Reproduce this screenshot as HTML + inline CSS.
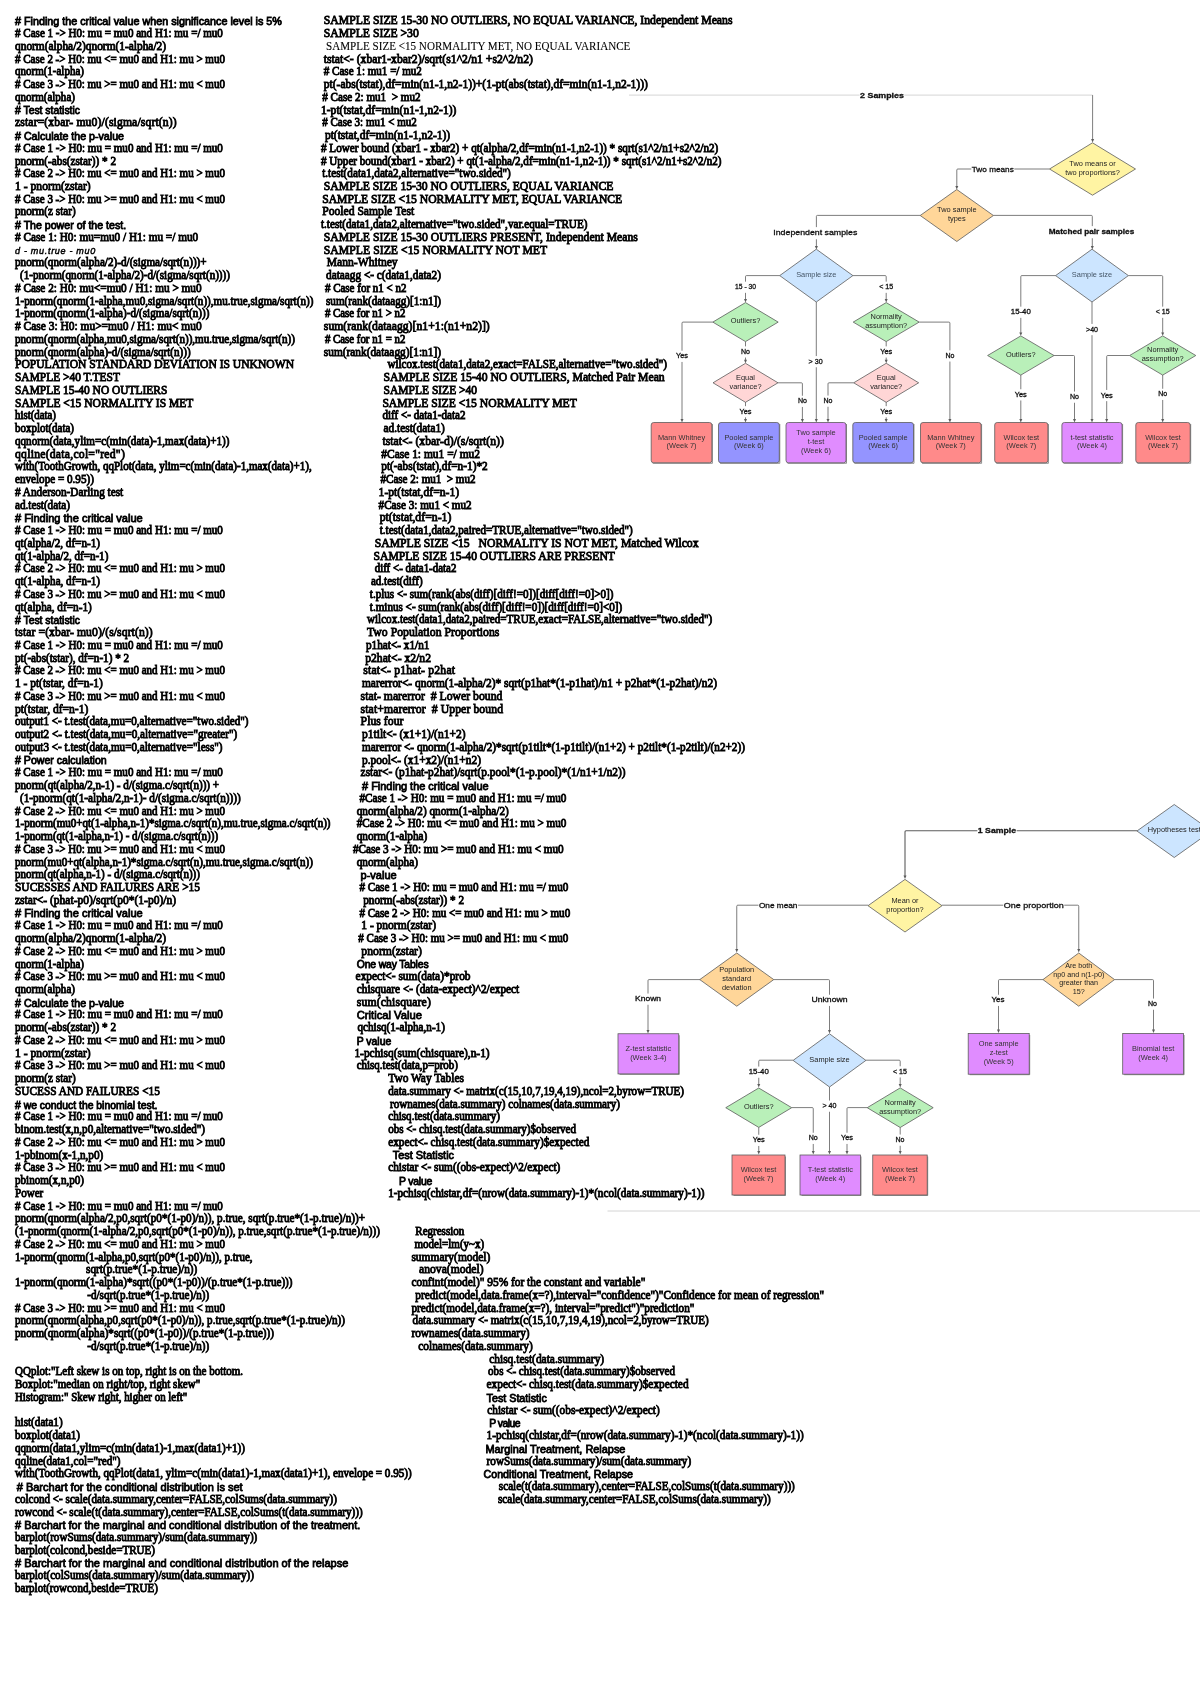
<!DOCTYPE html>
<html><head><meta charset="utf-8"><title>Statistics cheat sheet</title>
<style>
html,body{margin:0;padding:0;background:#fff}
body{width:1200px;height:1697px;position:relative;overflow:hidden;color:#000}
svg{display:block}
#txt{position:absolute;left:0;top:0;will-change:transform}
#txt text{white-space:pre;fill:#000;stroke:#000;stroke-width:0.8px}
#txt .s{font-family:"Liberation Serif",serif}
#txt .a{font-family:"Liberation Sans",sans-serif;stroke-width:0.8px}
#txt .i{font-family:"Liberation Sans",sans-serif;font-style:italic;stroke-width:0.45px}
#txt .l{font-family:"Liberation Serif",serif;stroke-width:0.1px}
</style></head>
<body>
<svg width="1200" height="1697" viewBox="0 0 1200 1697" style="position:absolute;left:0;top:0;will-change:transform;font-family:'Liberation Sans',sans-serif">
<path d="M629,95.1 H1092.6" stroke="#dedede" stroke-width="1.3" fill="none"/>
<path d="M1092.6,95.1 V140.0" fill="none" stroke="#5c5c5c" stroke-width="0.8"/>
<polygon points="1092.6,142.5 1091.1,139.1 1094.1,139.1" fill="#5c5c5c"/>
<rect x="859.60" y="89.50" width="44.80" height="12.16" fill="#fff"/>
<text x="882" y="97.86" font-size="7.6" fill="#111" stroke="#111" stroke-width="0.3" font-weight="bold" text-anchor="middle" textLength="43.8" lengthAdjust="spacingAndGlyphs">2 Samples</text>
<path d="M1049.5,169 H957.8 Q956.8,169 956.8,170 V187.0" fill="none" stroke="#5c5c5c" stroke-width="0.8"/>
<polygon points="956.8,189.5 955.3,186.1 958.3,186.1" fill="#5c5c5c"/>
<rect x="971.30" y="163.30" width="43.00" height="12.16" fill="#fff"/>
<text x="992.8" y="171.66" font-size="7.6" fill="#111" stroke="#111" stroke-width="0.3" font-weight="normal" text-anchor="middle" textLength="42" lengthAdjust="spacingAndGlyphs">Two means</text>
<path d="M920.3,215.4 H817.4 Q816.4,215.4 816.4,216.4 V247.0" fill="none" stroke="#5c5c5c" stroke-width="0.8"/>
<polygon points="816.4,249.5 814.9,246.1 817.9,246.1" fill="#5c5c5c"/>
<path d="M993.3,215.4 H1091.3 Q1092.3,215.4 1092.3,216.4 V247.0" fill="none" stroke="#5c5c5c" stroke-width="0.8"/>
<polygon points="1092.3,249.5 1090.8,246.1 1093.8,246.1" fill="#5c5c5c"/>
<rect x="772.80" y="227.10" width="85.00" height="12.16" fill="#fff"/>
<text x="815.3" y="235.46" font-size="7.6" fill="#111" stroke="#111" stroke-width="0.3" font-weight="normal" text-anchor="middle" textLength="84" lengthAdjust="spacingAndGlyphs">Independent samples</text>
<rect x="1048.30" y="226.10" width="86.40" height="12.16" fill="#fff"/>
<text x="1091.5" y="234.46" font-size="7.6" fill="#111" stroke="#111" stroke-width="0.3" font-weight="bold" text-anchor="middle" textLength="85.4" lengthAdjust="spacingAndGlyphs">Matched pair samples</text>
<path d="M779.8,275.6 H746.5 Q745.5,275.6 745.5,276.6 V300.0" fill="none" stroke="#5c5c5c" stroke-width="0.8"/>
<polygon points="745.5,302.5 744.0,299.1 747.0,299.1" fill="#5c5c5c"/>
<rect x="734.50" y="281.65" width="22.00" height="11.20" fill="#fff"/>
<text x="745.5" y="289.35" font-size="7" fill="#111" stroke="#111" stroke-width="0.3" font-weight="normal" text-anchor="middle" textLength="21" lengthAdjust="spacingAndGlyphs">15 - 30</text>
<path d="M852.8,275.6 H885.2 Q886.2,275.6 886.2,276.6 V300.0" fill="none" stroke="#5c5c5c" stroke-width="0.8"/>
<polygon points="886.2,302.5 884.7,299.1 887.7,299.1" fill="#5c5c5c"/>
<rect x="878.70" y="281.65" width="15.00" height="11.20" fill="#fff"/>
<text x="886.2" y="289.35" font-size="7" fill="#111" stroke="#111" stroke-width="0.3" font-weight="normal" text-anchor="middle" textLength="14" lengthAdjust="spacingAndGlyphs">&lt; 15</text>
<path d="M816.3,302 V420.0" fill="none" stroke="#5c5c5c" stroke-width="0.8"/>
<polygon points="816.3,422.5 814.8,419.1 817.8,419.1" fill="#5c5c5c"/>
<rect x="808.10" y="356.05" width="15.00" height="11.20" fill="#fff"/>
<text x="815.6" y="363.75" font-size="7" fill="#111" stroke="#111" stroke-width="0.3" font-weight="normal" text-anchor="middle" textLength="14" lengthAdjust="spacingAndGlyphs">&gt; 30</text>
<path d="M712.8,322.1 H683 Q682,322.1 682,323.1 V420.0" fill="none" stroke="#5c5c5c" stroke-width="0.8"/>
<polygon points="682,422.5 680.5,419.1 683.5,419.1" fill="#5c5c5c"/>
<rect x="675.50" y="350.75" width="13.00" height="11.20" fill="#fff"/>
<text x="682" y="358.45" font-size="7" fill="#111" stroke="#111" stroke-width="0.3" font-weight="normal" text-anchor="middle" textLength="12" lengthAdjust="spacingAndGlyphs">Yes</text>
<path d="M745.5,341.5 V360.7" fill="none" stroke="#5c5c5c" stroke-width="0.8"/>
<polygon points="745.5,363.2 744.0,359.8 747.0,359.8" fill="#5c5c5c"/>
<rect x="740.50" y="346.35" width="10.00" height="11.20" fill="#fff"/>
<text x="745.5" y="354.05" font-size="7" fill="#111" stroke="#111" stroke-width="0.3" font-weight="normal" text-anchor="middle" textLength="9" lengthAdjust="spacingAndGlyphs">No</text>
<path d="M886.2,341.5 V360.7" fill="none" stroke="#5c5c5c" stroke-width="0.8"/>
<polygon points="886.2,363.2 884.7,359.8 887.7,359.8" fill="#5c5c5c"/>
<rect x="879.70" y="346.35" width="13.00" height="11.20" fill="#fff"/>
<text x="886.2" y="354.05" font-size="7" fill="#111" stroke="#111" stroke-width="0.3" font-weight="normal" text-anchor="middle" textLength="12" lengthAdjust="spacingAndGlyphs">Yes</text>
<path d="M919.3,322.1 H948.9 Q949.9,322.1 949.9,323.1 V420.0" fill="none" stroke="#5c5c5c" stroke-width="0.8"/>
<polygon points="949.9,422.5 948.4,419.1 951.4,419.1" fill="#5c5c5c"/>
<rect x="945.00" y="350.35" width="10.00" height="11.20" fill="#fff"/>
<text x="950" y="358.05" font-size="7" fill="#111" stroke="#111" stroke-width="0.3" font-weight="normal" text-anchor="middle" textLength="9" lengthAdjust="spacingAndGlyphs">No</text>
<path d="M778,382.8 H801.4 Q802.4,382.8 802.4,383.8 V420.0" fill="none" stroke="#5c5c5c" stroke-width="0.8"/>
<polygon points="802.4,422.5 800.9,419.1 803.9,419.1" fill="#5c5c5c"/>
<rect x="797.40" y="395.75" width="10.00" height="11.20" fill="#fff"/>
<text x="802.4" y="403.45" font-size="7" fill="#111" stroke="#111" stroke-width="0.3" font-weight="normal" text-anchor="middle" textLength="9" lengthAdjust="spacingAndGlyphs">No</text>
<path d="M745.5,402 V420.0" fill="none" stroke="#5c5c5c" stroke-width="0.8"/>
<polygon points="745.5,422.5 744.0,419.1 747.0,419.1" fill="#5c5c5c"/>
<rect x="739.00" y="406.15" width="13.00" height="11.20" fill="#fff"/>
<text x="745.5" y="413.85" font-size="7" fill="#111" stroke="#111" stroke-width="0.3" font-weight="normal" text-anchor="middle" textLength="12" lengthAdjust="spacingAndGlyphs">Yes</text>
<path d="M853.7,382.8 H829 Q828,382.8 828,383.8 V420.0" fill="none" stroke="#5c5c5c" stroke-width="0.8"/>
<polygon points="828,422.5 826.5,419.1 829.5,419.1" fill="#5c5c5c"/>
<rect x="823.00" y="395.55" width="10.00" height="11.20" fill="#fff"/>
<text x="828" y="403.25" font-size="7" fill="#111" stroke="#111" stroke-width="0.3" font-weight="normal" text-anchor="middle" textLength="9" lengthAdjust="spacingAndGlyphs">No</text>
<path d="M886.2,402 V420.0" fill="none" stroke="#5c5c5c" stroke-width="0.8"/>
<polygon points="886.2,422.5 884.7,419.1 887.7,419.1" fill="#5c5c5c"/>
<rect x="879.70" y="406.15" width="13.00" height="11.20" fill="#fff"/>
<text x="886.2" y="413.85" font-size="7" fill="#111" stroke="#111" stroke-width="0.3" font-weight="normal" text-anchor="middle" textLength="12" lengthAdjust="spacingAndGlyphs">Yes</text>
<path d="M1055.8,275.6 H1021.8 Q1020.8,275.6 1020.8,276.6 V333.3" fill="none" stroke="#5c5c5c" stroke-width="0.8"/>
<polygon points="1020.8,335.8 1019.3,332.40000000000003 1022.3,332.40000000000003" fill="#5c5c5c"/>
<rect x="1010.30" y="306.65" width="21.00" height="11.20" fill="#fff"/>
<text x="1020.8" y="314.35" font-size="7" fill="#111" stroke="#111" stroke-width="0.3" font-weight="normal" text-anchor="middle" textLength="20" lengthAdjust="spacingAndGlyphs">15-40</text>
<path d="M1128.4,275.6 H1161.7 Q1162.7,275.6 1162.7,276.6 V333.3" fill="none" stroke="#5c5c5c" stroke-width="0.8"/>
<polygon points="1162.7,335.8 1161.2,332.40000000000003 1164.2,332.40000000000003" fill="#5c5c5c"/>
<rect x="1155.20" y="306.65" width="15.00" height="11.20" fill="#fff"/>
<text x="1162.7" y="314.35" font-size="7" fill="#111" stroke="#111" stroke-width="0.3" font-weight="normal" text-anchor="middle" textLength="14" lengthAdjust="spacingAndGlyphs">&lt; 15</text>
<path d="M1092,302 V420.0" fill="none" stroke="#5c5c5c" stroke-width="0.8"/>
<polygon points="1092,422.5 1090.5,419.1 1093.5,419.1" fill="#5c5c5c"/>
<rect x="1085.50" y="323.95" width="13.00" height="11.20" fill="#fff"/>
<text x="1092" y="331.65" font-size="7" fill="#111" stroke="#111" stroke-width="0.3" font-weight="normal" text-anchor="middle" textLength="12" lengthAdjust="spacingAndGlyphs">&gt;40</text>
<path d="M1054,355.5 H1073.5 Q1074.5,355.5 1074.5,356.5 V420.0" fill="none" stroke="#5c5c5c" stroke-width="0.8"/>
<polygon points="1074.5,422.5 1073.0,419.1 1076.0,419.1" fill="#5c5c5c"/>
<rect x="1069.50" y="391.55" width="10.00" height="11.20" fill="#fff"/>
<text x="1074.5" y="399.25" font-size="7" fill="#111" stroke="#111" stroke-width="0.3" font-weight="normal" text-anchor="middle" textLength="9" lengthAdjust="spacingAndGlyphs">No</text>
<path d="M1020.8,375 V420.0" fill="none" stroke="#5c5c5c" stroke-width="0.8"/>
<polygon points="1020.8,422.5 1019.3,419.1 1022.3,419.1" fill="#5c5c5c"/>
<rect x="1014.30" y="389.25" width="13.00" height="11.20" fill="#fff"/>
<text x="1020.8" y="396.95" font-size="7" fill="#111" stroke="#111" stroke-width="0.3" font-weight="normal" text-anchor="middle" textLength="12" lengthAdjust="spacingAndGlyphs">Yes</text>
<path d="M1129.7,355.5 H1107.7 Q1106.7,355.5 1106.7,356.5 V420.0" fill="none" stroke="#5c5c5c" stroke-width="0.8"/>
<polygon points="1106.7,422.5 1105.2,419.1 1108.2,419.1" fill="#5c5c5c"/>
<rect x="1100.20" y="389.95" width="13.00" height="11.20" fill="#fff"/>
<text x="1106.7" y="397.65" font-size="7" fill="#111" stroke="#111" stroke-width="0.3" font-weight="normal" text-anchor="middle" textLength="12" lengthAdjust="spacingAndGlyphs">Yes</text>
<path d="M1162.7,375 V420.0" fill="none" stroke="#5c5c5c" stroke-width="0.8"/>
<polygon points="1162.7,422.5 1161.2,419.1 1164.2,419.1" fill="#5c5c5c"/>
<rect x="1157.70" y="388.75" width="10.00" height="11.20" fill="#fff"/>
<text x="1162.7" y="396.45" font-size="7" fill="#111" stroke="#111" stroke-width="0.3" font-weight="normal" text-anchor="middle" textLength="9" lengthAdjust="spacingAndGlyphs">No</text>
<polygon points="1049.5,169 1092.5,142.8 1135.5,169 1092.5,195.2" fill="#FFF4A3" stroke="#5c5c5c" stroke-width="0.8"/>
<text x="1092.5" y="165.95" font-size="7.4" fill="#222" font-weight="normal" text-anchor="middle">Two means or</text>
<text x="1092.5" y="174.83" font-size="7.4" fill="#222" font-weight="normal" text-anchor="middle">two proportions?</text>
<polygon points="920.1999999999999,215.5 956.8,189.5 993.4,215.5 956.8,241.5" fill="#FFD699" stroke="#5c5c5c" stroke-width="0.8"/>
<text x="956.8" y="212.45" font-size="7.4" fill="#222" font-weight="normal" text-anchor="middle">Two sample</text>
<text x="956.8" y="221.33" font-size="7.4" fill="#222" font-weight="normal" text-anchor="middle">types</text>
<polygon points="779.6999999999999,275.6 816.3,249.20000000000002 852.9,275.6 816.3,302.0" fill="#CCE5FF" stroke="#5c5c5c" stroke-width="0.8"/>
<text x="816.3" y="276.99" font-size="7.4" fill="#456" font-weight="normal" text-anchor="middle">Sample size</text>
<polygon points="1055.6,275.6 1092,249.20000000000002 1128.4,275.6 1092,302.0" fill="#CCE5FF" stroke="#5c5c5c" stroke-width="0.8"/>
<text x="1092" y="276.99" font-size="7.4" fill="#456" font-weight="normal" text-anchor="middle">Sample size</text>
<polygon points="712.8,322.1 745.5,302.6 778.2,322.1 745.5,341.6" fill="#B9F0B9" stroke="#5c5c5c" stroke-width="0.8"/>
<text x="745.5" y="323.49" font-size="7.4" fill="#222" font-weight="normal" text-anchor="middle">Outliers?</text>
<polygon points="853.2,322.1 886.2,302.6 919.2,322.1 886.2,341.6" fill="#B9F0B9" stroke="#5c5c5c" stroke-width="0.8"/>
<text x="886.2" y="319.05" font-size="7.4" fill="#222" font-weight="normal" text-anchor="middle">Normality</text>
<text x="886.2" y="327.93" font-size="7.4" fill="#222" font-weight="normal" text-anchor="middle">assumption?</text>
<polygon points="713.0,382.8 745.5,363.3 778.0,382.8 745.5,402.3" fill="#FFD6D6" stroke="#5c5c5c" stroke-width="0.8"/>
<text x="745.5" y="379.75" font-size="7.4" fill="#222" font-weight="normal" text-anchor="middle">Equal</text>
<text x="745.5" y="388.63" font-size="7.4" fill="#222" font-weight="normal" text-anchor="middle">variance?</text>
<polygon points="853.7,382.8 886.2,363.3 918.7,382.8 886.2,402.3" fill="#FFD6D6" stroke="#5c5c5c" stroke-width="0.8"/>
<text x="886.2" y="379.75" font-size="7.4" fill="#222" font-weight="normal" text-anchor="middle">Equal</text>
<text x="886.2" y="388.63" font-size="7.4" fill="#222" font-weight="normal" text-anchor="middle">variance?</text>
<polygon points="987.5999999999999,355.5 1020.8,335.9 1054.0,355.5 1020.8,375.1" fill="#B9F0B9" stroke="#5c5c5c" stroke-width="0.8"/>
<text x="1020.8" y="356.89" font-size="7.4" fill="#222" font-weight="normal" text-anchor="middle">Outliers?</text>
<polygon points="1129.6000000000001,355.5 1162.7,335.9 1195.8,355.5 1162.7,375.1" fill="#B9F0B9" stroke="#5c5c5c" stroke-width="0.8"/>
<text x="1162.7" y="352.45" font-size="7.4" fill="#222" font-weight="normal" text-anchor="middle">Normality</text>
<text x="1162.7" y="361.33" font-size="7.4" fill="#222" font-weight="normal" text-anchor="middle">assumption?</text>
<rect x="651.2" y="422.5" width="60.69999999999993" height="40.30000000000001" rx="2.5" fill="#FF8A8A" stroke="#5c5c5c" stroke-width="0.8"/>
<path d="M712.4,424.0 V463.3 H652.7" fill="none" stroke="#5c5c5c" stroke-width="0.9" opacity="0.75"/>
<text x="681.55" y="439.60" font-size="7.4" fill="#333" font-weight="normal" text-anchor="middle">Mann Whitney</text>
<text x="681.55" y="448.48" font-size="7.4" fill="#333" font-weight="normal" text-anchor="middle">(Week 7)</text>
<rect x="718.5" y="422.5" width="60.799999999999955" height="40.30000000000001" rx="2.5" fill="#9494FF" stroke="#5c5c5c" stroke-width="0.8"/>
<path d="M779.8,424.0 V463.3 H720.0" fill="none" stroke="#5c5c5c" stroke-width="0.9" opacity="0.75"/>
<text x="748.9" y="439.60" font-size="7.4" fill="#333" font-weight="normal" text-anchor="middle">Pooled sample</text>
<text x="748.9" y="448.48" font-size="7.4" fill="#333" font-weight="normal" text-anchor="middle">(Week 6)</text>
<rect x="786" y="422.5" width="60" height="40.30000000000001" rx="2.5" fill="#E08CFF" stroke="#5c5c5c" stroke-width="0.8"/>
<path d="M846.5,424.0 V463.3 H787.5" fill="none" stroke="#5c5c5c" stroke-width="0.9" opacity="0.75"/>
<text x="816.0" y="435.16" font-size="7.4" fill="#333" font-weight="normal" text-anchor="middle">Two sample</text>
<text x="816.0" y="444.04" font-size="7.4" fill="#333" font-weight="normal" text-anchor="middle">t-test</text>
<text x="816.0" y="452.92" font-size="7.4" fill="#333" font-weight="normal" text-anchor="middle">(Week 6)</text>
<rect x="852.8" y="422.5" width="60.700000000000045" height="40.30000000000001" rx="2.5" fill="#9494FF" stroke="#5c5c5c" stroke-width="0.8"/>
<path d="M914.0,424.0 V463.3 H854.3" fill="none" stroke="#5c5c5c" stroke-width="0.9" opacity="0.75"/>
<text x="883.15" y="439.60" font-size="7.4" fill="#333" font-weight="normal" text-anchor="middle">Pooled sample</text>
<text x="883.15" y="448.48" font-size="7.4" fill="#333" font-weight="normal" text-anchor="middle">(Week 6)</text>
<rect x="920.5" y="422.5" width="60.60000000000002" height="40.30000000000001" rx="2.5" fill="#FF8A8A" stroke="#5c5c5c" stroke-width="0.8"/>
<path d="M981.6,424.0 V463.3 H922.0" fill="none" stroke="#5c5c5c" stroke-width="0.9" opacity="0.75"/>
<text x="950.8" y="439.60" font-size="7.4" fill="#333" font-weight="normal" text-anchor="middle">Mann Whitney</text>
<text x="950.8" y="448.48" font-size="7.4" fill="#333" font-weight="normal" text-anchor="middle">(Week 7)</text>
<rect x="994.7" y="422.5" width="53.200000000000045" height="40.30000000000001" rx="2.5" fill="#FF8A8A" stroke="#5c5c5c" stroke-width="0.8"/>
<path d="M1048.4,424.0 V463.3 H996.2" fill="none" stroke="#5c5c5c" stroke-width="0.9" opacity="0.75"/>
<text x="1021.3000000000001" y="439.60" font-size="7.4" fill="#333" font-weight="normal" text-anchor="middle">Wilcox test</text>
<text x="1021.3000000000001" y="448.48" font-size="7.4" fill="#333" font-weight="normal" text-anchor="middle">(Week 7)</text>
<rect x="1061.9" y="422.5" width="60.19999999999982" height="40.30000000000001" rx="2.5" fill="#E08CFF" stroke="#5c5c5c" stroke-width="0.8"/>
<path d="M1122.6,424.0 V463.3 H1063.4" fill="none" stroke="#5c5c5c" stroke-width="0.9" opacity="0.75"/>
<text x="1092.0" y="439.60" font-size="7.4" fill="#333" font-weight="normal" text-anchor="middle">t-test statistic</text>
<text x="1092.0" y="448.48" font-size="7.4" fill="#333" font-weight="normal" text-anchor="middle">(Week 4)</text>
<rect x="1135.8" y="422.5" width="54.40000000000009" height="40.30000000000001" rx="2.5" fill="#FF8A8A" stroke="#5c5c5c" stroke-width="0.8"/>
<path d="M1190.7,424.0 V463.3 H1137.3" fill="none" stroke="#5c5c5c" stroke-width="0.9" opacity="0.75"/>
<text x="1163.0" y="439.60" font-size="7.4" fill="#333" font-weight="normal" text-anchor="middle">Wilcox test</text>
<text x="1163.0" y="448.48" font-size="7.4" fill="#333" font-weight="normal" text-anchor="middle">(Week 7)</text>
<path d="M1137,830.8 H906 Q905,830.8 905,831.8 V876.5" fill="none" stroke="#5c5c5c" stroke-width="1.1"/>
<polygon points="905,879 903.5,875.6 906.5,875.6" fill="#5c5c5c"/>
<rect x="977.35" y="824.90" width="39.30" height="12.16" fill="#fff"/>
<text x="997" y="833.26" font-size="7.6" fill="#111" stroke="#111" stroke-width="0.3" font-weight="bold" text-anchor="middle" textLength="38.3" lengthAdjust="spacingAndGlyphs">1 Sample</text>
<path d="M868,905.2 H737.75 Q736.75,905.2 736.75,906.2 V950.0" fill="none" stroke="#5c5c5c" stroke-width="0.8"/>
<polygon points="736.75,952.5 735.25,949.1 738.25,949.1" fill="#5c5c5c"/>
<rect x="758.45" y="899.50" width="39.50" height="12.16" fill="#fff"/>
<text x="778.2" y="907.86" font-size="7.6" fill="#111" stroke="#111" stroke-width="0.3" font-weight="normal" text-anchor="middle" textLength="38.5" lengthAdjust="spacingAndGlyphs">One mean</text>
<path d="M942,905.2 H1077.75 Q1078.75,905.2 1078.75,906.2 V950.0" fill="none" stroke="#5c5c5c" stroke-width="0.8"/>
<polygon points="1078.75,952.5 1077.25,949.1 1080.25,949.1" fill="#5c5c5c"/>
<rect x="1003.25" y="899.30" width="61.00" height="12.16" fill="#fff"/>
<text x="1033.75" y="907.66" font-size="7.6" fill="#111" stroke="#111" stroke-width="0.3" font-weight="normal" text-anchor="middle" textLength="60" lengthAdjust="spacingAndGlyphs">One proportion</text>
<path d="M700,979.6 H649 Q648,979.6 648,980.6 V1031.0" fill="none" stroke="#5c5c5c" stroke-width="0.8"/>
<polygon points="648,1033.5 646.5,1030.1 649.5,1030.1" fill="#5c5c5c"/>
<rect x="634.50" y="993.55" width="27.00" height="11.20" fill="#fff"/>
<text x="648" y="1001.25" font-size="7" fill="#111" stroke="#111" stroke-width="0.3" font-weight="normal" text-anchor="middle" textLength="26" lengthAdjust="spacingAndGlyphs">Known</text>
<path d="M773.7,979.6 H828.5 Q829.5,979.6 829.5,980.6 V1031.0" fill="none" stroke="#5c5c5c" stroke-width="0.8"/>
<polygon points="829.5,1033.5 828.0,1030.1 831.0,1030.1" fill="#5c5c5c"/>
<rect x="811.00" y="994.75" width="37.00" height="11.20" fill="#fff"/>
<text x="829.5" y="1002.45" font-size="7" fill="#111" stroke="#111" stroke-width="0.3" font-weight="normal" text-anchor="middle" textLength="36" lengthAdjust="spacingAndGlyphs">Unknown</text>
<path d="M1043,979.6 H999.5 Q998.5,979.6 998.5,980.6 V1030.5" fill="none" stroke="#5c5c5c" stroke-width="0.8"/>
<polygon points="998.5,1033 997.0,1029.6 1000.0,1029.6" fill="#5c5c5c"/>
<rect x="991.00" y="994.75" width="14.00" height="11.20" fill="#fff"/>
<text x="998" y="1002.45" font-size="7" fill="#111" stroke="#111" stroke-width="0.3" font-weight="normal" text-anchor="middle" textLength="13" lengthAdjust="spacingAndGlyphs">Yes</text>
<path d="M1114.5,979.6 H1152.5 Q1153.5,979.6 1153.5,980.6 V1030.5" fill="none" stroke="#5c5c5c" stroke-width="0.8"/>
<polygon points="1153.5,1033 1152.0,1029.6 1155.0,1029.6" fill="#5c5c5c"/>
<rect x="1147.50" y="998.55" width="10.00" height="11.20" fill="#fff"/>
<text x="1152.5" y="1006.25" font-size="7" fill="#111" stroke="#111" stroke-width="0.3" font-weight="normal" text-anchor="middle" textLength="9" lengthAdjust="spacingAndGlyphs">No</text>
<path d="M793,1060.2 H759.75 Q758.75,1060.2 758.75,1061.2 V1085.0" fill="none" stroke="#5c5c5c" stroke-width="0.8"/>
<polygon points="758.75,1087.5 757.25,1084.1 760.25,1084.1" fill="#5c5c5c"/>
<rect x="748.25" y="1066.55" width="21.00" height="11.20" fill="#fff"/>
<text x="758.75" y="1074.25" font-size="7" fill="#111" stroke="#111" stroke-width="0.3" font-weight="normal" text-anchor="middle" textLength="20" lengthAdjust="spacingAndGlyphs">15-40</text>
<path d="M865.7,1060.2 H899.2 Q900.2,1060.2 900.2,1061.2 V1085.0" fill="none" stroke="#5c5c5c" stroke-width="0.8"/>
<polygon points="900.2,1087.5 898.7,1084.1 901.7,1084.1" fill="#5c5c5c"/>
<rect x="892.50" y="1066.25" width="15.00" height="11.20" fill="#fff"/>
<text x="900" y="1073.95" font-size="7" fill="#111" stroke="#111" stroke-width="0.3" font-weight="normal" text-anchor="middle" textLength="14" lengthAdjust="spacingAndGlyphs">&lt; 15</text>
<path d="M829.5,1087 V1152.0" fill="none" stroke="#5c5c5c" stroke-width="0.8"/>
<polygon points="829.5,1154.5 828.0,1151.1 831.0,1151.1" fill="#5c5c5c"/>
<rect x="822.00" y="1100.55" width="15.00" height="11.20" fill="#fff"/>
<text x="829.5" y="1108.25" font-size="7" fill="#111" stroke="#111" stroke-width="0.3" font-weight="normal" text-anchor="middle" textLength="14" lengthAdjust="spacingAndGlyphs">&gt; 40</text>
<path d="M792,1107.6 H812.25 Q813.25,1107.6 813.25,1108.6 V1152.0" fill="none" stroke="#5c5c5c" stroke-width="0.8"/>
<polygon points="813.25,1154.5 811.75,1151.1 814.75,1151.1" fill="#5c5c5c"/>
<rect x="808.25" y="1132.75" width="10.00" height="11.20" fill="#fff"/>
<text x="813.25" y="1140.45" font-size="7" fill="#111" stroke="#111" stroke-width="0.3" font-weight="normal" text-anchor="middle" textLength="9" lengthAdjust="spacingAndGlyphs">No</text>
<path d="M758.75,1127.3 V1152.0" fill="none" stroke="#5c5c5c" stroke-width="0.8"/>
<polygon points="758.75,1154.5 757.25,1151.1 760.25,1151.1" fill="#5c5c5c"/>
<rect x="752.25" y="1134.75" width="13.00" height="11.20" fill="#fff"/>
<text x="758.75" y="1142.45" font-size="7" fill="#111" stroke="#111" stroke-width="0.3" font-weight="normal" text-anchor="middle" textLength="12" lengthAdjust="spacingAndGlyphs">Yes</text>
<path d="M867.2,1107.6 H848 Q847,1107.6 847,1108.6 V1152.0" fill="none" stroke="#5c5c5c" stroke-width="0.8"/>
<polygon points="847,1154.5 845.5,1151.1 848.5,1151.1" fill="#5c5c5c"/>
<rect x="840.50" y="1132.75" width="13.00" height="11.20" fill="#fff"/>
<text x="847" y="1140.45" font-size="7" fill="#111" stroke="#111" stroke-width="0.3" font-weight="normal" text-anchor="middle" textLength="12" lengthAdjust="spacingAndGlyphs">Yes</text>
<path d="M900.2,1127.3 V1152.0" fill="none" stroke="#5c5c5c" stroke-width="0.8"/>
<polygon points="900.2,1154.5 898.7,1151.1 901.7,1151.1" fill="#5c5c5c"/>
<rect x="895.00" y="1134.55" width="10.00" height="11.20" fill="#fff"/>
<text x="900" y="1142.25" font-size="7" fill="#111" stroke="#111" stroke-width="0.3" font-weight="normal" text-anchor="middle" textLength="9" lengthAdjust="spacingAndGlyphs">No</text>
<polygon points="1136.95,831 1174.25,804.5 1211.55,831 1174.25,857.5" fill="#CCE5FF" stroke="#5c5c5c" stroke-width="0.8"/>
<text x="1174.25" y="832.39" font-size="7.4" fill="#222" font-weight="normal" text-anchor="middle">Hypotheses test</text>
<polygon points="868,905.7 905,879.4000000000001 942,905.7 905,932.0" fill="#FFF4A3" stroke="#5c5c5c" stroke-width="0.8"/>
<text x="905" y="902.65" font-size="7.4" fill="#222" font-weight="normal" text-anchor="middle">Mean or</text>
<text x="905" y="911.53" font-size="7.4" fill="#222" font-weight="normal" text-anchor="middle">proportion?</text>
<polygon points="699.75,979.6 736.75,953.0 773.75,979.6 736.75,1006.2" fill="#FFD699" stroke="#5c5c5c" stroke-width="0.8"/>
<text x="736.75" y="972.11" font-size="7.4" fill="#222" font-weight="normal" text-anchor="middle">Population</text>
<text x="736.75" y="980.99" font-size="7.4" fill="#222" font-weight="normal" text-anchor="middle">standard</text>
<text x="736.75" y="989.87" font-size="7.4" fill="#222" font-weight="normal" text-anchor="middle">deviation</text>
<polygon points="1042.95,979.6 1078.75,953.0 1114.55,979.6 1078.75,1006.2" fill="#FFD699" stroke="#5c5c5c" stroke-width="0.8"/>
<text x="1078.75" y="967.96" font-size="7.2" fill="#222" font-weight="normal" text-anchor="middle">Are both</text>
<text x="1078.75" y="976.60" font-size="7.2" fill="#222" font-weight="normal" text-anchor="middle">np0 and n(1-p0)</text>
<text x="1078.75" y="985.24" font-size="7.2" fill="#222" font-weight="normal" text-anchor="middle">greater than</text>
<text x="1078.75" y="993.88" font-size="7.2" fill="#222" font-weight="normal" text-anchor="middle">15?</text>
<polygon points="793.1,1060.4 829.5,1033.8000000000002 865.9,1060.4 829.5,1087.0" fill="#CCE5FF" stroke="#5c5c5c" stroke-width="0.8"/>
<text x="829.5" y="1061.79" font-size="7.4" fill="#222" font-weight="normal" text-anchor="middle">Sample size</text>
<polygon points="725.75,1107.7 758.75,1088.0 791.75,1107.7 758.75,1127.4" fill="#B9F0B9" stroke="#5c5c5c" stroke-width="0.8"/>
<text x="758.75" y="1109.09" font-size="7.4" fill="#222" font-weight="normal" text-anchor="middle">Outliers?</text>
<polygon points="867.2,1107.7 900.2,1087.9 933.2,1107.7 900.2,1127.5" fill="#B9F0B9" stroke="#5c5c5c" stroke-width="0.8"/>
<text x="900.2" y="1104.65" font-size="7.4" fill="#222" font-weight="normal" text-anchor="middle">Normality</text>
<text x="900.2" y="1113.53" font-size="7.4" fill="#222" font-weight="normal" text-anchor="middle">assumption?</text>
<rect x="618" y="1033.75" width="60.75" height="40.15000000000009" rx="0" fill="#E08CFF" stroke="#5c5c5c" stroke-width="0.8"/>
<path d="M679.25,1035.25 V1074.4 H619.5" fill="none" stroke="#5c5c5c" stroke-width="0.9" opacity="0.75"/>
<text x="648.375" y="1050.77" font-size="7.4" fill="#333" font-weight="normal" text-anchor="middle">Z-test statistic</text>
<text x="648.375" y="1059.65" font-size="7.4" fill="#333" font-weight="normal" text-anchor="middle">(Week 3-4)</text>
<rect x="968.2" y="1033.5" width="61.0" height="40.700000000000045" rx="0" fill="#E08CFF" stroke="#5c5c5c" stroke-width="0.8"/>
<path d="M1029.7,1035.0 V1074.7 H969.7" fill="none" stroke="#5c5c5c" stroke-width="0.9" opacity="0.75"/>
<text x="998.7" y="1046.36" font-size="7.4" fill="#333" font-weight="normal" text-anchor="middle">One sample</text>
<text x="998.7" y="1055.24" font-size="7.4" fill="#333" font-weight="normal" text-anchor="middle">z-test</text>
<text x="998.7" y="1064.12" font-size="7.4" fill="#333" font-weight="normal" text-anchor="middle">(Week 5)</text>
<rect x="1122.7" y="1033.5" width="60.899999999999864" height="40.700000000000045" rx="0" fill="#E08CFF" stroke="#5c5c5c" stroke-width="0.8"/>
<path d="M1184.1,1035.0 V1074.7 H1124.2" fill="none" stroke="#5c5c5c" stroke-width="0.9" opacity="0.75"/>
<text x="1153.15" y="1050.80" font-size="7.4" fill="#333" font-weight="normal" text-anchor="middle">Binomial test</text>
<text x="1153.15" y="1059.68" font-size="7.4" fill="#333" font-weight="normal" text-anchor="middle">(Week 4)</text>
<rect x="732" y="1155" width="53" height="40" rx="0" fill="#FF8A8A" stroke="#5c5c5c" stroke-width="0.8"/>
<path d="M785.5,1156.5 V1195.5 H733.5" fill="none" stroke="#5c5c5c" stroke-width="0.9" opacity="0.75"/>
<text x="758.5" y="1171.95" font-size="7.4" fill="#333" font-weight="normal" text-anchor="middle">Wilcox test</text>
<text x="758.5" y="1180.83" font-size="7.4" fill="#333" font-weight="normal" text-anchor="middle">(Week 7)</text>
<rect x="800" y="1155" width="60.5" height="40" rx="0" fill="#E08CFF" stroke="#5c5c5c" stroke-width="0.8"/>
<path d="M861.0,1156.5 V1195.5 H801.5" fill="none" stroke="#5c5c5c" stroke-width="0.9" opacity="0.75"/>
<text x="830.25" y="1171.95" font-size="7.4" fill="#333" font-weight="normal" text-anchor="middle">T-test statistic</text>
<text x="830.25" y="1180.83" font-size="7.4" fill="#333" font-weight="normal" text-anchor="middle">(Week 4)</text>
<rect x="872.75" y="1155" width="54.450000000000045" height="40" rx="0" fill="#FF8A8A" stroke="#5c5c5c" stroke-width="0.8"/>
<path d="M927.7,1156.5 V1195.5 H874.25" fill="none" stroke="#5c5c5c" stroke-width="0.9" opacity="0.75"/>
<text x="899.975" y="1171.95" font-size="7.4" fill="#333" font-weight="normal" text-anchor="middle">Wilcox test</text>
<text x="899.975" y="1180.83" font-size="7.4" fill="#333" font-weight="normal" text-anchor="middle">(Week 7)</text>
<path d="M607.5,1211 H1200" stroke="#d4d4d4" stroke-width="1" fill="none"/>
</svg>
<svg id="txt" width="1200" height="1697" viewBox="0 0 1200 1697">
<text class="a" transform="translate(15.0 25.10) scale(1 1.0)" font-size="10.77"># Finding the critical value when significance level is 5%</text>
<text class="s" transform="translate(15.0 37.05) scale(1 1.13)" font-size="11.06"># Case 1 -&gt; H0: mu = mu0 and H1: mu =/ mu0</text>
<text class="s" transform="translate(15.0 49.79) scale(1 1.13)" font-size="11.39">qnorm(alpha/2)qnorm(1-alpha/2)</text>
<text class="s" transform="translate(15.0 62.54) scale(1 1.13)" font-size="11.01"># Case 2 -&gt; H0: mu &lt;= mu0 and H1: mu &gt; mu0</text>
<text class="s" transform="translate(15.0 75.28) scale(1 1.13)" font-size="11.00">qnorm(1-alpha)</text>
<text class="s" transform="translate(15.0 88.03) scale(1 1.13)" font-size="11.01"># Case 3 -&gt; H0: mu &gt;= mu0 and H1: mu &lt; mu0</text>
<text class="s" transform="translate(15.0 100.78) scale(1 1.13)" font-size="11.03">qnorm(alpha)</text>
<text class="a" transform="translate(15.0 114.32) scale(1 1.0)" font-size="10.39"># Test statistic</text>
<text class="s" transform="translate(15.0 126.27) scale(1 1.13)" font-size="11.71" letter-spacing="0.110">zstar=(xbar- mu0)/(sigma/sqrt(n))</text>
<text class="a" transform="translate(15.0 139.81) scale(1 1.0)" font-size="10.67"># Calculate the p-value</text>
<text class="s" transform="translate(15.0 151.76) scale(1 1.13)" font-size="11.06"># Case 1 -&gt; H0: mu = mu0 and H1: mu =/ mu0</text>
<text class="s" transform="translate(15.0 164.51) scale(1 1.13)" font-size="11.24">pnorm(-abs(zstar)) * 2</text>
<text class="s" transform="translate(15.0 177.25) scale(1 1.13)" font-size="11.01"># Case 2 -&gt; H0: mu &lt;= mu0 and H1: mu &gt; mu0</text>
<text class="s" transform="translate(15.0 190.00) scale(1 1.13)" font-size="11.66">1 - pnorm(zstar)</text>
<text class="s" transform="translate(15.0 202.74) scale(1 1.13)" font-size="11.01"># Case 3 -&gt; H0: mu &gt;= mu0 and H1: mu &lt; mu0</text>
<text class="s" transform="translate(15.0 215.49) scale(1 1.13)" font-size="11.22">pnorm(z star)</text>
<text class="a" transform="translate(15.0 229.04) scale(1 1.0)" font-size="10.60"># The power of the test.</text>
<text class="s" transform="translate(15.0 240.98) scale(1 1.13)" font-size="11.28"># Case 1: H0: mu=mu0 / H1: mu =/ mu0</text>
<text class="i" transform="translate(15.0 253.73) scale(1 1.1)" font-size="9.03" letter-spacing="0.694">d - mu.true - mu0</text>
<text class="s" transform="translate(15.0 266.47) scale(1 1.13)" font-size="11.17">pnorm(qnorm(alpha/2)-d/(sigma/sqrt(n)))+</text>
<text class="s" transform="translate(20.0 279.22) scale(1 1.13)" font-size="11.10">(1-pnorm(qnorm(1-alpha/2)-d/(sigma/sqrt(n))))</text>
<text class="s" transform="translate(15.0 291.97) scale(1 1.13)" font-size="11.29"># Case 2: H0: mu&lt;=mu0 / H1: mu &gt; mu0</text>
<text class="s" transform="translate(15.0 304.71) scale(1 1.13)" font-size="11.09">1-pnorm(qnorm(1-alpha,mu0,sigma/sqrt(n)),mu.true,sigma/sqrt(n))</text>
<text class="s" transform="translate(15.0 317.46) scale(1 1.13)" font-size="11.12">1-pnorm(qnorm(1-alpha)-d/(sigma/sqrt(n)))</text>
<text class="s" transform="translate(15.0 330.20) scale(1 1.13)" font-size="11.46"># Case 3: H0: mu&gt;=mu0 / H1: mu&lt; mu0</text>
<text class="s" transform="translate(15.0 342.95) scale(1 1.13)" font-size="11.10">pnorm(qnorm(alpha,mu0,sigma/sqrt(n)),mu.true,sigma/sqrt(n))</text>
<text class="s" transform="translate(15.0 355.70) scale(1 1.13)" font-size="11.11">pnorm(qnorm(alpha)-d/(sigma/sqrt(n)))</text>
<text class="s" transform="translate(15.0 368.44) scale(1 1.13)" font-size="11.59">POPULATION STANDARD DEVIATION IS UNKNOWN</text>
<text class="s" transform="translate(15.0 381.19) scale(1 1.13)" font-size="11.46">SAMPLE &gt;40 T.TEST</text>
<text class="s" transform="translate(15.0 393.93) scale(1 1.13)" font-size="11.46">SAMPLE 15-40 NO OUTLIERS</text>
<text class="s" transform="translate(15.0 406.68) scale(1 1.13)" font-size="11.53">SAMPLE &lt;15 NORMALITY IS MET</text>
<text class="s" transform="translate(15.0 419.43) scale(1 1.13)" font-size="10.86">hist(data)</text>
<text class="s" transform="translate(15.0 432.17) scale(1 1.13)" font-size="10.96">boxplot(data)</text>
<text class="s" transform="translate(15.0 444.92) scale(1 1.13)" font-size="11.12">qqnorm(data,ylim=c(min(data)-1,max(data)+1))</text>
<text class="s" transform="translate(15.0 457.66) scale(1 1.13)" font-size="11.71" letter-spacing="0.235">qqline(data,col="red")</text>
<text class="s" transform="translate(15.0 470.41) scale(1 1.13)" font-size="11.02">with(ToothGrowth, qqPlot(data, ylim=c(min(data)-1,max(data)+1),</text>
<text class="s" transform="translate(15.0 483.16) scale(1 1.13)" font-size="11.15">envelope = 0.95))</text>
<text class="s" transform="translate(15.0 495.90) scale(1 1.13)" font-size="11.28"># Anderson-Darling test</text>
<text class="s" transform="translate(15.0 508.65) scale(1 1.13)" font-size="11.20">ad.test(data)</text>
<text class="a" transform="translate(15.0 522.19) scale(1 1.0)" font-size="11.06"># Finding the critical value</text>
<text class="s" transform="translate(15.0 534.14) scale(1 1.13)" font-size="11.06"># Case 1 -&gt; H0: mu = mu0 and H1: mu =/ mu0</text>
<text class="s" transform="translate(15.0 546.89) scale(1 1.13)" font-size="11.17">qt(alpha/2, df=n-1)</text>
<text class="s" transform="translate(15.0 559.63) scale(1 1.13)" font-size="11.05">qt(1-alpha/2, df=n-1)</text>
<text class="s" transform="translate(15.0 572.38) scale(1 1.13)" font-size="11.01"># Case 2 -&gt; H0: mu &lt;= mu0 and H1: mu &gt; mu0</text>
<text class="s" transform="translate(15.0 585.12) scale(1 1.13)" font-size="11.09">qt(1-alpha, df=n-1)</text>
<text class="s" transform="translate(15.0 597.87) scale(1 1.13)" font-size="11.01"># Case 3 -&gt; H0: mu &gt;= mu0 and H1: mu &lt; mu0</text>
<text class="s" transform="translate(15.0 610.62) scale(1 1.13)" font-size="11.22">qt(alpha, df=n-1)</text>
<text class="a" transform="translate(15.0 624.16) scale(1 1.0)" font-size="10.39"># Test statistic</text>
<text class="s" transform="translate(15.0 636.11) scale(1 1.13)" font-size="11.71" letter-spacing="0.068">tstar =(xbar- mu0)/(s/sqrt(n))</text>
<text class="s" transform="translate(15.0 648.85) scale(1 1.13)" font-size="11.06"># Case 1 -&gt; H0: mu = mu0 and H1: mu =/ mu0</text>
<text class="s" transform="translate(15.0 661.60) scale(1 1.13)" font-size="11.18">pt(-abs(tstar), df=n-1) * 2</text>
<text class="s" transform="translate(15.0 674.35) scale(1 1.13)" font-size="11.01"># Case 2 -&gt; H0: mu &lt;= mu0 and H1: mu &gt; mu0</text>
<text class="s" transform="translate(15.0 687.09) scale(1 1.13)" font-size="11.42">1 - pt(tstar, df=n-1)</text>
<text class="s" transform="translate(15.0 699.84) scale(1 1.13)" font-size="11.01"># Case 3 -&gt; H0: mu &gt;= mu0 and H1: mu &lt; mu0</text>
<text class="s" transform="translate(15.0 712.58) scale(1 1.13)" font-size="11.54">pt(tstar, df=n-1)</text>
<text class="s" transform="translate(15.0 725.33) scale(1 1.13)" font-size="11.12">output1 &lt;- t.test(data,mu=0,alternative="two.sided")</text>
<text class="s" transform="translate(15.0 738.08) scale(1 1.13)" font-size="11.17">output2 &lt;- t.test(data,mu=0,alternative="greater")</text>
<text class="s" transform="translate(15.0 750.82) scale(1 1.13)" font-size="11.15">output3 &lt;- t.test(data,mu=0,alternative="less")</text>
<text class="a" transform="translate(15.0 764.37) scale(1 1.0)" font-size="10.59"># Power calculation</text>
<text class="s" transform="translate(15.0 776.31) scale(1 1.13)" font-size="11.06"># Case 1 -&gt; H0: mu = mu0 and H1: mu =/ mu0</text>
<text class="s" transform="translate(15.0 789.06) scale(1 1.13)" font-size="11.13">pnorm(qt(alpha/2,n-1) - d/(sigma.c/sqrt(n))) +</text>
<text class="s" transform="translate(20.0 801.81) scale(1 1.13)" font-size="11.25">(1-pnorm(qt(1-alpha/2,n-1)- d/(sigma.c/sqrt(n))))</text>
<text class="s" transform="translate(15.0 814.55) scale(1 1.13)" font-size="11.01"># Case 2 -&gt; H0: mu &lt;= mu0 and H1: mu &gt; mu0</text>
<text class="s" transform="translate(15.0 827.30) scale(1 1.13)" font-size="11.04">1-pnorm(mu0+qt(1-alpha,n-1)*sigma.c/sqrt(n),mu.true,sigma.c/sqrt(n))</text>
<text class="s" transform="translate(15.0 840.04) scale(1 1.13)" font-size="11.03">1-pnorm(qt(1-alpha,n-1) - d/(sigma.c/sqrt(n)))</text>
<text class="s" transform="translate(15.0 852.79) scale(1 1.13)" font-size="11.01"># Case 3 -&gt; H0: mu &gt;= mu0 and H1: mu &lt; mu0</text>
<text class="s" transform="translate(15.0 865.54) scale(1 1.13)" font-size="11.06">pnorm(mu0+qt(alpha,n-1)*sigma.c/sqrt(n),mu.true,sigma.c/sqrt(n))</text>
<text class="s" transform="translate(15.0 878.28) scale(1 1.13)" font-size="11.04">pnorm(qt(alpha,n-1) - d/(sigma.c/sqrt(n)))</text>
<text class="s" transform="translate(15.0 891.03) scale(1 1.13)" font-size="11.46">SUCESSES AND FAILURES ARE &gt;15</text>
<text class="s" transform="translate(15.0 903.77) scale(1 1.13)" font-size="11.53">zstar&lt;- (phat-p0)/sqrt(p0*(1-p0)/n)</text>
<text class="a" transform="translate(15.0 917.32) scale(1 1.0)" font-size="11.06"># Finding the critical value</text>
<text class="s" transform="translate(15.0 929.27) scale(1 1.13)" font-size="11.06"># Case 1 -&gt; H0: mu = mu0 and H1: mu =/ mu0</text>
<text class="s" transform="translate(15.0 942.01) scale(1 1.13)" font-size="11.39">qnorm(alpha/2)qnorm(1-alpha/2)</text>
<text class="s" transform="translate(15.0 954.76) scale(1 1.13)" font-size="11.01"># Case 2 -&gt; H0: mu &lt;= mu0 and H1: mu &gt; mu0</text>
<text class="s" transform="translate(15.0 967.50) scale(1 1.13)" font-size="11.00">qnorm(1-alpha)</text>
<text class="s" transform="translate(15.0 980.25) scale(1 1.13)" font-size="11.01"># Case 3 -&gt; H0: mu &gt;= mu0 and H1: mu &lt; mu0</text>
<text class="s" transform="translate(15.0 993.00) scale(1 1.13)" font-size="11.03">qnorm(alpha)</text>
<text class="a" transform="translate(15.0 1006.54) scale(1 1.0)" font-size="10.67"># Calculate the p-value</text>
<text class="s" transform="translate(15.0 1018.49) scale(1 1.13)" font-size="11.06"># Case 1 -&gt; H0: mu = mu0 and H1: mu =/ mu0</text>
<text class="s" transform="translate(15.0 1031.23) scale(1 1.13)" font-size="11.24">pnorm(-abs(zstar)) * 2</text>
<text class="s" transform="translate(15.0 1043.98) scale(1 1.13)" font-size="11.01"># Case 2 -&gt; H0: mu &lt;= mu0 and H1: mu &gt; mu0</text>
<text class="s" transform="translate(15.0 1056.73) scale(1 1.13)" font-size="11.66">1 - pnorm(zstar)</text>
<text class="s" transform="translate(15.0 1069.47) scale(1 1.13)" font-size="11.01"># Case 3 -&gt; H0: mu &gt;= mu0 and H1: mu &lt; mu0</text>
<text class="s" transform="translate(15.0 1082.22) scale(1 1.13)" font-size="11.22">pnorm(z star)</text>
<text class="s" transform="translate(15.0 1094.96) scale(1 1.13)" font-size="11.34">SUCESS AND FAILURES &lt;15</text>
<text class="a" transform="translate(15.0 1108.51) scale(1 1.0)" font-size="10.38"># we conduct the binomial test.</text>
<text class="s" transform="translate(15.0 1120.46) scale(1 1.13)" font-size="11.06"># Case 1 -&gt; H0: mu = mu0 and H1: mu =/ mu0</text>
<text class="s" transform="translate(15.0 1133.20) scale(1 1.13)" font-size="11.14">binom.test(x,n,p0,alternative="two.sided")</text>
<text class="s" transform="translate(15.0 1145.95) scale(1 1.13)" font-size="11.01"># Case 2 -&gt; H0: mu &lt;= mu0 and H1: mu &gt; mu0</text>
<text class="s" transform="translate(15.0 1158.69) scale(1 1.13)" font-size="11.20">1-pbinom(x-1,n,p0)</text>
<text class="s" transform="translate(15.0 1171.44) scale(1 1.13)" font-size="11.01"># Case 3 -&gt; H0: mu &gt;= mu0 and H1: mu &lt; mu0</text>
<text class="s" transform="translate(15.0 1184.19) scale(1 1.13)" font-size="11.10">pbinom(x,n,p0)</text>
<text class="s" transform="translate(15.0 1196.93) scale(1 1.13)" font-size="11.08">Power</text>
<text class="s" transform="translate(15.0 1209.68) scale(1 1.13)" font-size="11.06"># Case 1 -&gt; H0: mu = mu0 and H1: mu =/ mu0</text>
<text class="s" transform="translate(15.0 1222.42) scale(1 1.13)" font-size="11.17">pnorm(qnorm(alpha/2,p0,sqrt(p0*(1-p0)/n)), p.true, sqrt(p.true*(1-p.true)/n))+</text>
<text class="s" transform="translate(15.0 1235.17) scale(1 1.13)" font-size="11.11">(1-pnorm(qnorm(1-alpha/2,p0,sqrt(p0*(1-p0)/n)), p.true,sqrt(p.true*(1-p.true)/n)))</text>
<text class="s" transform="translate(15.0 1247.92) scale(1 1.13)" font-size="11.01"># Case 2 -&gt; H0: mu &lt;= mu0 and H1: mu &gt; mu0</text>
<text class="s" transform="translate(15.0 1260.66) scale(1 1.13)" font-size="11.04">1-pnorm(qnorm(1-alpha,p0,sqrt(p0*(1-p0)/n)), p.true,</text>
<text class="s" transform="translate(86.0 1273.41) scale(1 1.13)" font-size="11.27">sqrt(p.true*(1-p.true)/n))</text>
<text class="s" transform="translate(15.0 1286.15) scale(1 1.13)" font-size="11.15">1-pnorm(qnorm(1-alpha)*sqrt((p0*(1-p0))/(p.true*(1-p.true)))</text>
<text class="s" transform="translate(87.3 1298.90) scale(1 1.13)" font-size="11.10">-d/sqrt(p.true*(1-p.true)/n))</text>
<text class="s" transform="translate(15.0 1311.65) scale(1 1.13)" font-size="11.01"># Case 3 -&gt; H0: mu &gt;= mu0 and H1: mu &lt; mu0</text>
<text class="s" transform="translate(15.0 1324.39) scale(1 1.13)" font-size="11.09">pnorm(qnorm(alpha,p0,sqrt(p0*(1-p0)/n)), p.true,sqrt(p.true*(1-p.true)/n))</text>
<text class="s" transform="translate(15.0 1337.14) scale(1 1.13)" font-size="11.14">pnorm(qnorm(alpha)*sqrt((p0*(1-p0))/(p.true*(1-p.true)))</text>
<text class="s" transform="translate(87.3 1349.88) scale(1 1.13)" font-size="11.10">-d/sqrt(p.true*(1-p.true)/n))</text>
<text class="s" transform="translate(15.0 1375.38) scale(1 1.13)" font-size="11.03">QQplot:"Left skew is on top, right is on the bottom.</text>
<text class="s" transform="translate(15.0 1388.12) scale(1 1.13)" font-size="10.96">Boxplot:"median on right/top, right skew"</text>
<text class="s" transform="translate(15.0 1400.87) scale(1 1.13)" font-size="10.90">Histogram:" Skew right, higher on left"</text>
<text class="s" transform="translate(15.0 1426.36) scale(1 1.13)" font-size="11.16">hist(data1)</text>
<text class="s" transform="translate(15.0 1439.11) scale(1 1.13)" font-size="11.05">boxplot(data1)</text>
<text class="s" transform="translate(15.0 1451.85) scale(1 1.13)" font-size="11.07">qqnorm(data1,ylim=c(min(data1)-1,max(data1)+1))</text>
<text class="s" transform="translate(15.0 1464.60) scale(1 1.13)" font-size="11.18">qqline(data1,col="red")</text>
<text class="s" transform="translate(15.0 1477.34) scale(1 1.13)" font-size="11.09">with(ToothGrowth, qqPlot(data1, ylim=c(min(data1)-1,max(data1)+1), envelope = 0.95))</text>
<text class="a" transform="translate(16.7 1490.89) scale(1 1.0)" font-size="11.03"># Barchart for the conditional distribution is set</text>
<text class="s" transform="translate(15.0 1502.84) scale(1 1.13)" font-size="11.09">colcond &lt;- scale(data.summary,center=FALSE,colSums(data.summary))</text>
<text class="s" transform="translate(15.0 1515.58) scale(1 1.13)" font-size="11.11">rowcond &lt;- scale(t(data.summary),center=FALSE,colSums(t(data.summary)))</text>
<text class="a" transform="translate(15.0 1529.13) scale(1 1.0)" font-size="10.96"># Barchart for the marginal and conditional distribution of the treatment.</text>
<text class="s" transform="translate(15.0 1541.07) scale(1 1.13)" font-size="11.11">barplot(rowSums(data.summary)/sum(data.summary))</text>
<text class="s" transform="translate(15.0 1553.82) scale(1 1.13)" font-size="11.08">barplot(colcond,beside=TRUE)</text>
<text class="a" transform="translate(15.0 1567.37) scale(1 1.0)" font-size="11.01"># Barchart for the marginal and conditional distribution of the relapse</text>
<text class="s" transform="translate(15.0 1579.31) scale(1 1.13)" font-size="11.13">barplot(colSums(data.summary)/sum(data.summary))</text>
<text class="s" transform="translate(15.0 1592.06) scale(1 1.13)" font-size="11.03">barplot(rowcond,beside=TRUE)</text>
<text class="s" transform="translate(323.8 24.30) scale(1 1.13)" font-size="11.71" letter-spacing="0.016">SAMPLE SIZE 15-30 NO OUTLIERS, NO EQUAL VARIANCE, Independent Means</text>
<text class="s" transform="translate(323.8 37.05) scale(1 1.13)" font-size="11.71">SAMPLE SIZE &gt;30</text>
<text class="l" transform="translate(326.0 49.79) scale(1 1.08)" font-size="11.10">SAMPLE SIZE &lt;15 NORMALITY MET, NO EQUAL VARIANCE</text>
<text class="s" transform="translate(323.8 62.54) scale(1 1.13)" font-size="11.70">tstat&lt;- (xbar1-xbar2)/sqrt(s1^2/n1 +s2^2/n2)</text>
<text class="s" transform="translate(323.8 75.28) scale(1 1.13)" font-size="11.07"># Case 1: mu1 =/ mu2</text>
<text class="s" transform="translate(323.8 88.03) scale(1 1.13)" font-size="11.51">pt(-abs(tstat),df=min(n1-1,n2-1))+(1-pt(abs(tstat),df=min(n1-1,n2-1)))</text>
<text class="s" transform="translate(322.2 100.78) scale(1 1.13)" font-size="11.15"># Case 2: mu1  &gt; mu2</text>
<text class="s" transform="translate(321.0 113.52) scale(1 1.13)" font-size="11.55">1-pt(tstat,df=min(n1-1,n2-1))</text>
<text class="s" transform="translate(322.2 126.27) scale(1 1.13)" font-size="11.03"># Case 3: mu1 &lt; mu2</text>
<text class="s" transform="translate(324.9 139.01) scale(1 1.13)" font-size="11.51">pt(tstat,df=min(n1-1,n2-1))</text>
<text class="s" transform="translate(321.0 151.76) scale(1 1.13)" font-size="11.16"># Lower bound (xbar1 - xbar2) + qt(alpha/2,df=min(n1-1,n2-1)) * sqrt(s1^2/n1+s2^2/n2)</text>
<text class="s" transform="translate(321.0 164.51) scale(1 1.13)" font-size="11.10"># Upper bound(xbar1 - xbar2) + qt(1-alpha/2,df=min(n1-1,n2-1)) * sqrt(s1^2/n1+s2^2/n2)</text>
<text class="s" transform="translate(322.2 177.25) scale(1 1.13)" font-size="11.19">t.test(data1,data2,alternative="two.sided")</text>
<text class="s" transform="translate(323.8 190.00) scale(1 1.13)" font-size="11.70">SAMPLE SIZE 15-30 NO OUTLIERS, EQUAL VARIANCE</text>
<text class="s" transform="translate(322.2 202.74) scale(1 1.13)" font-size="11.66">SAMPLE SIZE &lt;15 NORMALITY MET, EQUAL VARIANCE</text>
<text class="s" transform="translate(322.2 215.49) scale(1 1.13)" font-size="11.64">Pooled Sample Test</text>
<text class="s" transform="translate(321.0 228.24) scale(1 1.13)" font-size="11.14">t.test(data1,data2,alternative="two.sided",var.equal=TRUE)</text>
<text class="s" transform="translate(323.8 240.98) scale(1 1.13)" font-size="11.71">SAMPLE SIZE 15-30 OUTLIERS PRESENT, Independent Means</text>
<text class="s" transform="translate(323.8 253.73) scale(1 1.13)" font-size="11.71" letter-spacing="0.041">SAMPLE SIZE &lt;15 NORMALITY NOT MET</text>
<text class="s" transform="translate(326.8 266.47) scale(1 1.13)" font-size="11.61">Mann-Whitney</text>
<text class="s" transform="translate(326.0 279.22) scale(1 1.13)" font-size="11.29">dataagg &lt;- c(data1,data2)</text>
<text class="s" transform="translate(324.9 291.97) scale(1 1.13)" font-size="11.00"># Case for n1 &lt; n2</text>
<text class="s" transform="translate(326.0 304.71) scale(1 1.13)" font-size="11.14">sum(rank(dataagg)[1:n1])</text>
<text class="s" transform="translate(324.9 317.46) scale(1 1.13)" font-size="10.85"># Case for n1 &gt; n2</text>
<text class="s" transform="translate(323.8 330.20) scale(1 1.13)" font-size="11.71" letter-spacing="0.022">sum(rank(dataagg)[n1+1:(n1+n2)])</text>
<text class="s" transform="translate(324.9 342.95) scale(1 1.13)" font-size="10.85"># Case for n1 = n2</text>
<text class="s" transform="translate(323.8 355.70) scale(1 1.13)" font-size="11.36">sum(rank(dataagg)[1:n1])</text>
<text class="s" transform="translate(387.4 368.44) scale(1 1.13)" font-size="11.10">wilcox.test(data1,data2,exact=FALSE,alternative="two.sided")</text>
<text class="s" transform="translate(383.6 381.19) scale(1 1.13)" font-size="11.70">SAMPLE SIZE 15-40 NO OUTLIERS, Matched Pair Mean</text>
<text class="s" transform="translate(383.6 393.93) scale(1 1.13)" font-size="11.52">SAMPLE SIZE &gt;40</text>
<text class="s" transform="translate(382.4 406.68) scale(1 1.13)" font-size="11.65">SAMPLE SIZE &lt;15 NORMALITY MET</text>
<text class="s" transform="translate(382.4 419.43) scale(1 1.13)" font-size="11.12">diff &lt;- data1-data2</text>
<text class="s" transform="translate(383.6 432.17) scale(1 1.13)" font-size="11.33">ad.test(data1)</text>
<text class="s" transform="translate(382.4 444.92) scale(1 1.13)" font-size="11.71" letter-spacing="0.017">tstat&lt;- (xbar-d)/(s/sqrt(n))</text>
<text class="s" transform="translate(381.3 457.66) scale(1 1.13)" font-size="11.47">#Case 1: mu1 =/ mu2</text>
<text class="s" transform="translate(381.3 470.41) scale(1 1.13)" font-size="11.31">pt(-abs(tstat),df=n-1)*2</text>
<text class="s" transform="translate(380.5 483.16) scale(1 1.13)" font-size="11.07">#Case 2: mu1  &gt; mu2</text>
<text class="s" transform="translate(378.6 495.90) scale(1 1.13)" font-size="11.64">1-pt(tstat,df=n-1)</text>
<text class="s" transform="translate(378.6 508.65) scale(1 1.13)" font-size="11.17">#Case 3: mu1 &lt; mu2</text>
<text class="s" transform="translate(379.7 521.39) scale(1 1.13)" font-size="11.71" letter-spacing="0.028">pt(tstat,df=n-1)</text>
<text class="s" transform="translate(379.7 534.14) scale(1 1.13)" font-size="11.11">t.test(data1,data2,paired=TRUE,alternative="two.sided")</text>
<text class="s" transform="translate(374.7 546.89) scale(1 1.13)" font-size="11.71">SAMPLE SIZE &lt;15   NORMALITY IS NOT MET, Matched Wilcox</text>
<text class="s" transform="translate(373.6 559.63) scale(1 1.13)" font-size="11.64">SAMPLE SIZE 15-40 OUTLIERS ARE PRESENT</text>
<text class="s" transform="translate(374.7 572.38) scale(1 1.13)" font-size="10.92">diff &lt;- data1-data2</text>
<text class="s" transform="translate(370.9 585.12) scale(1 1.13)" font-size="11.07">ad.test(diff)</text>
<text class="s" transform="translate(369.8 597.87) scale(1 1.13)" font-size="11.12">t.plus &lt;- sum(rank(abs(diff)[diff!=0])[diff[diff!=0]&gt;0])</text>
<text class="s" transform="translate(369.8 610.62) scale(1 1.13)" font-size="11.12">t.minus &lt;- sum(rank(abs(diff)[diff!=0])[diff[diff!=0]&lt;0])</text>
<text class="s" transform="translate(367.0 623.36) scale(1 1.13)" font-size="11.09">wilcox.test(data1,data2,paired=TRUE,exact=FALSE,alternative="two.sided")</text>
<text class="s" transform="translate(367.0 636.11) scale(1 1.13)" font-size="11.71" letter-spacing="0.021">Two Population Proportions</text>
<text class="s" transform="translate(365.9 648.85) scale(1 1.13)" font-size="11.27">p1hat&lt;- x1/n1</text>
<text class="s" transform="translate(365.2 661.60) scale(1 1.13)" font-size="11.66">p2hat&lt;- x2/n2</text>
<text class="s" transform="translate(363.2 674.35) scale(1 1.13)" font-size="11.71" letter-spacing="0.186">stat&lt;- p1hat- p2hat</text>
<text class="s" transform="translate(362.0 687.09) scale(1 1.13)" font-size="11.42">marerror&lt;- qnorm(1-alpha/2)* sqrt(p1hat*(1-p1hat)/n1 + p2hat*(1-p2hat)/n2)</text>
<text class="s" transform="translate(360.6 699.84) scale(1 1.13)" font-size="11.71" letter-spacing="0.017">stat- marerror  # Lower bound</text>
<text class="s" transform="translate(360.6 712.58) scale(1 1.13)" font-size="11.71" letter-spacing="0.097">stat+marerror  # Upper bound</text>
<text class="s" transform="translate(360.6 725.33) scale(1 1.13)" font-size="11.71" letter-spacing="0.036">Plus four</text>
<text class="s" transform="translate(362.0 738.08) scale(1 1.13)" font-size="11.52">p1tilt&lt;- (x1+1)/(n1+2)</text>
<text class="s" transform="translate(362.0 750.82) scale(1 1.13)" font-size="11.22">marerror &lt;- qnorm(1-alpha/2)*sqrt(p1tilt*(1-p1tilt)/(n1+2) + p2tilt*(1-p2tilt)/(n2+2))</text>
<text class="s" transform="translate(362.0 763.57) scale(1 1.13)" font-size="11.43">p.pool&lt;- (x1+x2)/(n1+n2)</text>
<text class="s" transform="translate(360.6 776.31) scale(1 1.13)" font-size="11.41">zstar&lt;- (p1hat-p2hat)/sqrt(p.pool*(1-p.pool)*(1/n1+1/n2))</text>
<text class="a" transform="translate(362.0 789.86) scale(1 1.0)" font-size="10.96"># Finding the critical value</text>
<text class="s" transform="translate(359.4 801.81) scale(1 1.13)" font-size="11.17">#Case 1 -&gt; H0: mu = mu0 and H1: mu =/ mu0</text>
<text class="s" transform="translate(356.7 814.55) scale(1 1.13)" font-size="11.26">qnorm(alpha/2) qnorm(1-alpha/2)</text>
<text class="s" transform="translate(356.7 827.30) scale(1 1.13)" font-size="11.14">#Case 2 -&gt; H0: mu &lt;= mu0 and H1: mu &gt; mu0</text>
<text class="s" transform="translate(356.7 840.04) scale(1 1.13)" font-size="11.26">qnorm(1-alpha)</text>
<text class="s" transform="translate(352.9 852.79) scale(1 1.13)" font-size="11.20">#Case 3 -&gt; H0: mu &gt;= mu0 and H1: mu &lt; mu0</text>
<text class="s" transform="translate(356.7 865.54) scale(1 1.13)" font-size="11.27">qnorm(alpha)</text>
<text class="a" transform="translate(360.6 879.08) scale(1 1.0)" font-size="10.99">p-value</text>
<text class="s" transform="translate(359.4 891.03) scale(1 1.13)" font-size="11.12"># Case 1 -&gt; H0: mu = mu0 and H1: mu =/ mu0</text>
<text class="s" transform="translate(363.2 903.77) scale(1 1.13)" font-size="11.21">pnorm(-abs(zstar)) * 2</text>
<text class="s" transform="translate(359.4 916.52) scale(1 1.13)" font-size="11.05"># Case 2 -&gt; H0: mu &lt;= mu0 and H1: mu &gt; mu0</text>
<text class="s" transform="translate(361.3 929.27) scale(1 1.13)" font-size="11.51">1 - pnorm(zstar)</text>
<text class="s" transform="translate(358.3 942.01) scale(1 1.13)" font-size="11.01"># Case 3 -&gt; H0: mu &gt;= mu0 and H1: mu &lt; mu0</text>
<text class="s" transform="translate(361.3 954.76) scale(1 1.13)" font-size="11.71" letter-spacing="0.015">pnorm(zstar)</text>
<text class="a" transform="translate(356.7 968.30) scale(1 1.0)" font-size="10.38" letter-spacing="-0.135">One way Tables</text>
<text class="s" transform="translate(355.6 980.25) scale(1 1.13)" font-size="11.41">expect&lt;- sum(data)*prob</text>
<text class="s" transform="translate(356.7 993.00) scale(1 1.13)" font-size="11.33">chisquare &lt;- (data-expect)^2/expect</text>
<text class="s" transform="translate(356.7 1005.74) scale(1 1.13)" font-size="11.71" letter-spacing="0.156">sum(chisquare)</text>
<text class="a" transform="translate(356.7 1019.29) scale(1 1.0)" font-size="11.22">Critical Value</text>
<text class="s" transform="translate(357.5 1031.23) scale(1 1.13)" font-size="11.13">qchisq(1-alpha,n-1)</text>
<text class="a" transform="translate(356.7 1044.78) scale(1 1.0)" font-size="10.41">P value</text>
<text class="s" transform="translate(354.4 1056.73) scale(1 1.13)" font-size="11.42">1-pchisq(sum(chisquare),n-1)</text>
<text class="s" transform="translate(356.7 1069.47) scale(1 1.13)" font-size="10.98">chisq.test(data,p=prob)</text>
<text class="s" transform="translate(388.2 1082.22) scale(1 1.13)" font-size="11.44">Two Way Tables</text>
<text class="s" transform="translate(388.2 1094.96) scale(1 1.13)" font-size="11.09">data.summary &lt;- matrix(c(15,10,7,19,4,19),ncol=2,byrow=TRUE)</text>
<text class="s" transform="translate(390.0 1107.71) scale(1 1.13)" font-size="11.10">rownames(data.summary) colnames(data.summary)</text>
<text class="s" transform="translate(388.2 1120.46) scale(1 1.13)" font-size="11.13">chisq.test(data.summary)</text>
<text class="s" transform="translate(388.2 1133.20) scale(1 1.13)" font-size="11.09">obs &lt;- chisq.test(data.summary)$observed</text>
<text class="s" transform="translate(388.2 1145.95) scale(1 1.13)" font-size="11.27">expect&lt;- chisq.test(data.summary)$expected</text>
<text class="a" transform="translate(392.8 1159.49) scale(1 1.0)" font-size="10.91">Test Statistic</text>
<text class="s" transform="translate(388.2 1171.44) scale(1 1.13)" font-size="11.31">chistar &lt;- sum((obs-expect)^2/expect)</text>
<text class="a" transform="translate(398.9 1184.99) scale(1 1.0)" font-size="10.38" letter-spacing="-0.158">P value</text>
<text class="s" transform="translate(388.2 1196.93) scale(1 1.13)" font-size="11.20">1-pchisq(chistar,df=(nrow(data.summary)-1)*(ncol(data.summary)-1))</text>
<text class="s" transform="translate(415.3 1235.17) scale(1 1.13)" font-size="11.03">Regression</text>
<text class="s" transform="translate(414.5 1247.92) scale(1 1.13)" font-size="11.04">model=lm(y~x)</text>
<text class="s" transform="translate(411.4 1260.66) scale(1 1.13)" font-size="11.48">summary(model)</text>
<text class="s" transform="translate(419.1 1273.41) scale(1 1.13)" font-size="11.61">anova(model)</text>
<text class="s" transform="translate(411.4 1286.15) scale(1 1.13)" font-size="11.40">confint(model)" 95% for the constant and variable"</text>
<text class="s" transform="translate(415.3 1298.90) scale(1 1.13)" font-size="11.24">predict(model,data.frame(x=?),interval="confidence")"Confidence for mean of regression"</text>
<text class="s" transform="translate(411.4 1311.65) scale(1 1.13)" font-size="11.24">predict(model,data.frame(x=?), interval="predict")"prediction"</text>
<text class="s" transform="translate(412.6 1324.39) scale(1 1.13)" font-size="11.11">data.summary &lt;- matrix(c(15,10,7,19,4,19),ncol=2,byrow=TRUE)</text>
<text class="s" transform="translate(411.4 1337.14) scale(1 1.13)" font-size="11.35">rownames(data.summary)</text>
<text class="s" transform="translate(418.3 1349.88) scale(1 1.13)" font-size="11.35">colnames(data.summary)</text>
<text class="s" transform="translate(489.2 1362.63) scale(1 1.13)" font-size="11.45">chisq.test(data.summary)</text>
<text class="s" transform="translate(488.1 1375.38) scale(1 1.13)" font-size="11.04">obs &lt;- chisq.test(data.summary)$observed</text>
<text class="s" transform="translate(486.6 1388.12) scale(1 1.13)" font-size="11.32">expect&lt;- chisq.test(data.summary)$expected</text>
<text class="a" transform="translate(486.6 1401.67) scale(1 1.0)" font-size="10.72">Test Statistic</text>
<text class="s" transform="translate(487.3 1413.61) scale(1 1.13)" font-size="11.32">chistar &lt;- sum((obs-expect)^2/expect)</text>
<text class="a" transform="translate(489.2 1427.16) scale(1 1.0)" font-size="10.38" letter-spacing="-0.529">P value</text>
<text class="s" transform="translate(486.6 1439.11) scale(1 1.13)" font-size="11.22">1-pchisq(chistar,df=(nrow(data.summary)-1)*(ncol(data.summary)-1))</text>
<text class="a" transform="translate(485.4 1452.65) scale(1 1.0)" font-size="10.91">Marginal Treatment, Relapse</text>
<text class="s" transform="translate(486.6 1464.60) scale(1 1.13)" font-size="11.17">rowSums(data.summary)/sum(data.summary)</text>
<text class="a" transform="translate(483.5 1478.14) scale(1 1.0)" font-size="10.68">Conditional Treatment, Relapse</text>
<text class="s" transform="translate(498.8 1490.09) scale(1 1.13)" font-size="11.21">scale(t(data.summary),center=FALSE,colSums(t(data.summary)))</text>
<text class="s" transform="translate(498.0 1502.84) scale(1 1.13)" font-size="11.16">scale(data.summary,center=FALSE,colSums(data.summary))</text>
</svg>
</body></html>
